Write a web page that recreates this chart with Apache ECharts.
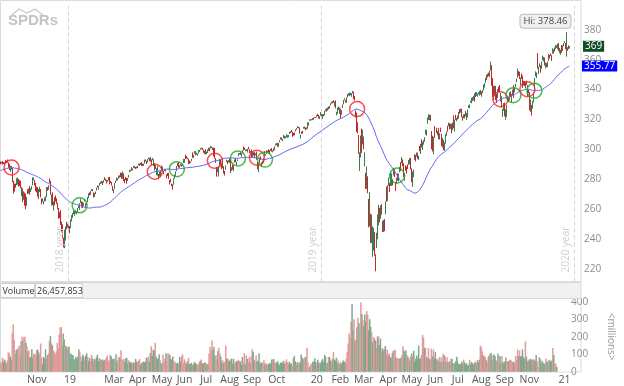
<!DOCTYPE html>
<html><head><meta charset="utf-8">
<script src="https://cdn.jsdelivr.net/npm/echarts@6/dist/echarts.min.js"></script>
<style>html,body{margin:0;padding:0;background:#fff}#c{width:624px;height:386px}</style>
</head><body><div id="c"></div>
<script>
// ---- data: rows are [open, high, low, close, volume (millions)] per trading day ----
const warmup = [279.3,280.5,281.1,280.0,279.7,280.2,281.6,284.0,283.3,280.9,279.3,281.3,
280.9,282.4,283.6,284.6,285.6,285.5,285.1,283.2,282.1,283.9,281.8,284.1,285.1,285.7,286.3,286.2,285.8,287.5,289.8,289.9,291.5,290.3,290.3,
289.8,289.0,288.2,287.6,288.1,289.1,289.1,290.8,290.9,289.3,290.9,291.4,293.6,292.0];
const m2018_09 = [[291.3,291.8,290.0,291.0,56],[291.4,291.6,290.5,290.8,46],[291.0,292.2,289.8,289.9,80],[290.4,291.4,290.1,290.7,57],[290.1,291.3,289.9,290.7,70]];
const m2018_10 = [[292.1,292.9,290.9,291.7,62],[291.6,292.4,290.8,291.6,48],[292.7,293.2,291.0,291.7,64],[291.2,291.2,287.7,289.4,111],[289.7,290.3,286.0,287.8,105],[287.1,288.9,285.0,287.8,87],[287.3,288.9,286.4,287.4,69],[286.9,287.4,277.9,278.3,220],[277.1,278.9,270.4,272.2,270],[276.8,277.0,271.7,275.9,182],[275.6,277.0,274.3,274.4,102],[276.6,280.6,275.9,280.4,123],[280.5,281.2,276.4,280.5,129],[279.4,280.1,274.9,276.4,134],[277.1,279.3,275.5,276.3,149],[277.0,278.9,273.9,275.0,105],[270.9,274.9,268.6,273.6,172],[273.3,273.8,264.7,265.3,200],[267.4,271.8,266.2,270.1,176],[265.9,271.0,262.3,265.3,200],[268.8,270.3,259.9,263.9,200],[263.7,268.1,262.1,267.8,165],[270.7,273.2,270.1,270.6,146]];
const m2018_11 = [[271.6,273.7,270.4,273.5,116],[274.8,275.2,269.6,271.9,123],[272.4,274.0,271.4,273.4,80],[273.1,275.3,273.0,275.1,86],[277.6,281.1,276.0,281.0,128],[280.1,281.2,279.2,280.5,80],[279.0,279.3,275.7,277.8,102],[277.2,277.5,271.9,272.6,98],[273.1,275.0,271.1,272.1,99],[274.2,274.6,268.3,270.2,125],[268.8,273.4,266.6,273.0,126],[271.8,274.9,271.4,273.7,110],[273.2,273.4,267.9,269.1,99],[265.4,267.2,263.2,264.1,161],[266.4,267.0,264.9,265.0,82],[263.2,265.3,263.1,263.3,42],[265.8,267.8,265.1,267.5,85],[266.2,268.5,265.3,268.4,75],[269.6,274.7,268.0,274.6,128],[273.8,274.7,272.2,273.0,76],[273.8,276.0,272.9,275.7,95]];
const m2018_12 = [[280.3,280.4,277.5,279.3,104],[278.4,278.8,269.6,270.2,177],[265.9,269.9,262.3,269.8,205],[269.5,271.2,262.6,263.6,161],[263.4,265.2,258.9,264.1,151],[267.7,267.9,262.5,264.1,121],[267.7,269.1,265.0,265.4,111],[266.6,267.1,263.4,265.4,97],[262.9,264.0,259.9,260.5,117],[259.4,260.7,253.5,255.4,165],[257.2,257.9,253.9,255.1,134],[255.2,259.4,249.3,251.3,214],[249.9,251.6,244.7,247.2,252],[246.7,249.7,239.8,240.7,255],[239.0,240.8,234.3,234.3,147],[235.9,246.2,233.8,246.2,218],[242.6,248.3,238.9,248.1,186],[249.6,251.4,246.4,247.8,153],[249.6,250.2,247.5,249.9,144]];
const m2019_01 = [[245.9,251.2,245.0,250.2,127],[248.2,248.6,243.7,244.2,144],[247.6,253.1,247.2,252.4,142],[252.7,255.9,251.7,254.4,103],[256.8,257.3,254.0,256.8,103],[257.6,258.9,256.5,258.0,96],[256.1,259.2,255.5,258.9,96],[257.7,259.0,257.0,259.0,73],[256.9,258.3,256.4,257.4,71],[257.8,260.7,257.6,260.4,85],[260.8,262.5,260.6,261.0,76],[259.5,263.9,259.4,263.0,86],[264.9,266.9,263.9,266.5,127],[264.8,265.1,261.1,262.9,115],[264.0,264.8,260.7,263.4,87],[263.2,264.2,262.1,263.6,60],[265.6,266.7,265.0,265.8,97],[263.4,263.8,261.2,263.8,86],[263.9,264.5,262.8,263.4,66],[265.1,268.0,264.7,267.6,92],[267.5,270.5,267.3,269.9,105]];
const m2019_02 = [[270.2,271.2,269.2,270.1,86],[270.1,272.0,269.4,272.0,61],[272.4,273.4,272.2,273.1,79],[272.8,273.3,271.9,272.7,59],[270.9,271.2,267.7,270.1,96],[268.8,270.7,268.2,270.5,76],[271.2,271.7,270.0,270.6,60],[272.4,274.3,272.4,274.1,73],[275.1,275.8,274.4,275.0,66],[273.9,275.5,272.9,274.4,83],[276.4,277.4,275.5,277.4,97],[277.0,278.4,276.8,277.9,59],[278.1,278.9,277.2,278.4,76],[278.3,278.5,276.1,277.4,72],[278.1,279.4,277.6,279.1,66],[280.7,281.3,279.4,279.5,70],[279.1,280.3,278.7,279.3,62],[278.3,279.6,277.0,279.2,68],[278.9,279.3,278.2,278.7,68]];
const m2019_03 = [[281.0,281.3,279.1,280.4,80],[281.2,281.5,276.5,278.4,92],[278.5,278.9,277.5,278.0,59],[278.0,278.1,275.8,276.1,66],[275.3,275.5,272.3,273.8,95],[271.5,273.4,270.6,273.2,89],[273.4,277.3,273.4,277.2,73],[277.6,279.0,277.5,278.1,70],[279.0,281.1,278.9,280.0,75],[279.7,280.6,279.1,279.6,58],[280.5,282.4,280.3,281.3,100],[281.6,282.6,281.0,282.3,56],[283.5,284.4,281.4,282.4,70],[282.0,284.2,280.2,281.5,85],[280.6,285.2,280.3,284.7,80],[283.2,283.8,278.7,278.9,123],[278.9,280.2,277.3,278.6,70],[280.9,281.6,279.2,280.7,68],[280.4,280.8,276.9,279.4,72],[279.6,280.9,278.8,280.5,57],[282.2,282.8,281.1,282.5,78]];
const m2019_04 = [[284.7,286.2,284.6,285.8,77],[286.0,286.3,285.2,286.0,47],[287.3,288.0,285.7,286.4,65],[286.8,287.2,285.9,287.2,52],[287.7,288.7,287.5,288.6,56],[288.1,288.9,287.3,288.8,45],[287.8,288.2,286.9,287.3,52],[287.8,288.4,287.2,288.3,53],[288.8,288.8,287.4,288.2,46],[289.6,290.5,289.2,290.2,73],[290.2,290.4,288.9,290.2,57],[290.9,291.0,289.5,290.2,55],[291.4,291.4,288.9,289.5,62],[290.1,290.3,288.7,290.0,72],[289.2,290.4,288.9,290.3,40],[290.7,293.1,290.4,292.9,50],[292.8,293.2,291.9,292.2,53],[292.1,292.3,290.2,292.1,58],[292.1,293.5,291.2,293.4,51],[293.5,294.4,293.3,293.9,58],[293.5,294.3,291.9,294.0,80]];
const m2019_05 = [[294.7,294.9,291.8,291.8,76],[291.7,293.2,289.4,291.2,86],[292.8,294.3,292.7,294.0,56],[289.3,293.3,288.8,292.8,107],[290.2,290.8,285.8,287.5,145],[287.5,289.4,286.8,287.5,91],[285.2,287.3,282.7,286.7,125],[285.6,288.9,282.3,288.0,120],[282.4,283.5,279.9,280.9,165],[281.9,285.1,281.8,283.4,85],[281.7,285.8,281.6,285.1,73],[285.8,289.2,285.7,287.8,75],[285.1,288.4,285.1,285.8,100],[284.1,285.4,283.3,283.9,66],[285.8,286.9,285.5,286.5,47],[285.5,286.6,285.1,285.6,49],[283.2,283.3,280.5,282.1,98],[283.7,284.2,282.1,282.8,58],[283.1,284.2,280.2,280.2,73],[278.3,279.4,276.4,278.3,105],[279.1,280.1,277.8,279.0,58],[276.2,277.0,275.3,275.3,104]];
const m2019_06 = [[275.3,276.6,273.0,274.6,103],[277.2,280.6,276.3,280.5,94],[282.3,283.0,280.3,283.0,72],[283.3,285.3,282.2,284.8,69],[285.9,288.9,285.5,287.7,87],[289.4,290.8,288.8,289.0,59],[290.9,291.4,287.7,288.9,58],[288.6,289.2,287.6,288.4,48],[289.4,290.0,288.9,289.6,47],[288.8,289.9,288.3,289.3,52],[289.7,290.2,289.1,289.4,38],[291.3,293.6,290.9,292.4,85],[292.6,293.6,291.0,293.1,60],[296.0,296.3,293.5,295.9,88],[294.1,295.5,293.8,294.0,99],[294.2,294.4,293.3,293.6,47],[293.6,293.7,290.2,290.8,71],[292.0,292.5,290.3,290.5,54],[291.1,291.8,290.8,291.5,45],[292.6,293.6,292.0,293.0,59]];
const m2019_07 = [[297.6,298.0,294.3,295.7,80],[295.5,296.5,294.3,296.4,44],[297.2,298.8,297.0,298.8,44],[297.4,298.8,295.9,298.5,51],[297.0,297.7,296.5,296.8,42],[296.0,297.2,295.7,297.2,39],[298.4,299.7,297.2,298.6,56],[299.3,299.6,298.3,299.3,50],[299.8,300.7,299.5,300.7,44],[301.1,301.1,300.2,300.8,34],[300.6,301.0,299.6,299.7,44],[299.7,299.8,297.7,297.7,52],[297.2,299.0,296.7,298.8,63],[300.0,300.1,296.7,296.7,70],[297.6,298.4,296.7,297.6,47],[298.9,299.9,297.5,299.7,47],[299.1,301.1,298.9,301.1,50],[300.9,301.0,298.7,299.6,56],[300.8,302.2,300.5,301.8,47],[301.9,301.9,300.8,301.5,42],[299.9,301.2,299.5,300.7,44],[300.9,301.2,295.2,297.4,104]];
const m2019_08 = [[297.6,300.9,293.9,294.8,142],[293.9,294.1,290.9,292.6,120],[288.1,288.2,281.7,283.8,178],[285.9,288.0,284.6,287.8,122],[284.4,288.8,281.7,288.0,141],[289.6,293.6,289.0,293.6,88],[292.6,293.2,289.6,291.6,94],[290.0,290.3,286.7,288.1,71],[287.7,294.2,287.3,292.6,119],[288.1,288.7,283.8,283.9,137],[284.9,285.6,282.4,284.6,106],[286.5,289.3,286.2,288.9,87],[292.2,293.1,291.4,292.3,54],[291.8,292.4,290.0,290.1,65],[292.1,292.8,291.3,292.5,48],[293.1,294.0,290.9,292.4,56],[291.9,293.7,284.1,284.9,150],[287.3,288.0,285.6,288.0,72],[289.5,289.9,286.4,287.0,78],[286.1,289.3,285.4,289.0,63],[291.7,293.2,291.1,292.6,63],[294.2,294.2,291.4,292.5,71]];
const m2019_09 = [[290.6,291.6,289.3,290.7,74],[292.9,293.3,292.1,293.2,46],[296.1,297.4,295.4,296.8,73],[297.2,297.5,296.6,297.0,47],[297.8,298.0,296.2,297.0,55],[296.5,297.3,295.1,297.1,60],[297.9,299.3,297.2,299.3,61],[301.3,301.8,299.1,300.2,68],[300.8,301.2,299.7,300.0,60],[299.0,299.9,298.7,299.1,59],[299.2,299.9,298.8,299.9,41],[299.9,300.3,297.8,300.0,84],[300.5,301.7,300.0,300.0,52],[299.4,300.0,297.6,298.3,106],[297.4,298.8,297.3,298.3,43],[299.5,299.9,294.8,295.9,93],[296.1,298.4,294.3,297.6,73],[297.6,297.9,295.9,297.0,58],[297.9,298.2,294.1,295.4,83],[296.1,297.3,295.9,296.8,50]];
const m2019_10 = [[297.7,298.5,293.0,293.2,88],[291.5,291.5,286.6,288.1,129],[287.8,290.5,284.8,290.4,114],[291.1,294.5,290.7,294.4,69],[293.5,295.2,292.9,293.1,52],[291.0,291.2,288.5,288.5,94],[290.8,292.3,290.0,291.3,59],[291.2,294.2,290.9,293.2,63],[296.3,298.7,296.0,296.3,105],[295.9,296.7,295.6,295.9,45],[296.9,299.3,296.8,298.9,53],[298.4,299.1,297.9,298.4,53],[299.7,300.0,297.9,299.3,45],[298.9,299.4,296.7,298.0,65],[299.4,300.2,298.9,300.0,44],[300.6,300.9,298.5,298.6,51],[298.4,299.3,297.9,299.3,39],[300.2,300.6,298.8,299.9,44],[299.5,302.0,299.3,301.6,45],[302.6,303.9,302.5,303.3,51],[303.2,304.0,302.9,303.2,43],[303.4,304.5,301.7,304.1,70],[304.1,304.1,301.7,303.3,69]];
const m2019_11 = [[304.9,306.2,304.7,306.1,73],[307.7,308.0,306.7,307.1,53],[307.1,307.9,306.3,306.6,51],[306.7,307.0,305.4,306.9,53],[307.7,309.7,307.6,308.2,60],[307.8,309.0,307.0,309.0,45],[307.5,308.7,307.4,308.4,36],[308.8,310.1,308.1,309.0,51],[307.8,309.5,307.7,309.1,53],[308.9,309.6,308.0,309.6,52],[311.0,311.8,310.3,311.8,63],[311.5,312.0,310.8,312.0,45],[312.7,312.9,311.3,311.9,54],[311.3,311.8,308.4,310.8,71],[310.6,311.0,309.1,310.3,54],[311.1,311.2,309.4,311.0,43],[311.9,313.4,311.9,313.4,57],[313.4,314.3,313.1,314.1,47],[314.6,315.5,314.2,315.5,46],[314.8,315.1,314.1,314.3,29]];
const m2019_12 = [[314.6,314.7,310.5,311.6,76],[307.9,309.9,307.2,309.6,91],[310.7,312.1,310.3,311.5,59],[312.2,312.3,310.6,312.0,40],[314.1,315.0,313.8,314.9,55],[314.4,315.2,313.8,313.9,47],[313.8,314.6,312.8,313.5,52],[314.0,314.7,313.4,314.4,53],[314.4,318.0,313.7,317.1,99],[317.0,318.2,315.9,317.3,81],[319.3,320.2,319.1,319.5,71],[319.9,320.0,319.2,319.6,77],[320.0,320.2,319.5,319.6,82],[319.5,320.9,319.5,320.9,86],[321.1,321.2,319.8,320.7,137],[321.6,321.6,320.9,321.2,53],[321.5,321.5,320.9,321.2,20],[321.7,322.9,321.6,322.9,31],[323.7,323.8,322.3,322.9,43],[322.9,323.1,320.6,321.1,49],[320.5,322.1,320.2,321.9,57]];
const m2020_01 = [[323.5,324.9,322.5,324.9,59],[321.2,323.6,321.1,322.4,77],[320.5,323.7,320.4,323.6,55],[323.0,323.5,322.2,322.7,40],[322.9,325.8,322.7,324.5,68],[326.2,326.7,325.5,326.7,49],[327.3,327.5,325.2,325.7,53],[326.4,328.0,325.9,328.0,48],[327.5,328.6,326.8,327.5,62],[327.4,329.0,327.3,328.2,72],[329.7,330.9,329.3,330.9,54],[331.7,332.0,330.6,332.0,96],[330.9,332.2,330.8,331.3,86],[332.3,332.9,331.2,331.3,47],[330.6,332.0,328.7,331.7,51],[332.4,332.7,327.4,328.8,85],[323.0,325.1,322.7,323.5,84],[325.1,327.9,323.8,326.9,64],[328.4,328.6,326.4,326.6,54],[324.4,327.9,323.8,327.7,75],[327.0,327.2,320.7,321.7,114]];
const m2020_02 = [[323.4,326.2,323.2,324.1,69],[328.1,330.0,327.7,329.1,63],[332.3,333.1,330.1,332.9,80],[333.9,334.2,332.8,333.9,50],[332.8,333.0,331.2,332.2,64],[331.2,334.8,331.2,334.7,42],[336.2,337.0,334.7,335.3,54],[336.2,337.6,336.0,337.4,44],[335.9,338.1,335.6,337.1,54],[337.5,337.7,336.2,337.6,64],[336.5,337.7,335.2,336.7,58],[337.8,339.1,337.5,338.3,48],[337.7,338.6,333.6,337.0,74],[335.5,335.8,332.6,333.5,113],[323.1,326.0,321.3,322.4,161],[323.9,324.6,311.7,312.7,218],[314.2,318.1,310.7,311.5,194],[305.5,309.6,297.0,297.5,284],[288.7,297.9,285.5,296.3,385]];
const m2020_03 = [[298.2,309.2,294.5,309.1,238],[309.5,313.8,297.6,300.2,300],[306.1,313.1,303.3,312.9,176],[305.0,308.5,300.0,302.5,186],[293.2,298.0,288.5,297.5,254],[275.3,284.2,273.5,274.2,309],[284.6,288.5,273.5,288.4,277],[280.7,281.9,270.6,274.4,256],[256.0,266.7,247.7,248.1,395],[263.1,271.5,248.5,269.3,330],[241.2,256.9,237.4,239.9,297],[245.0,256.2,237.1,252.8,262],[236.3,248.4,228.0,240.0,327],[239.3,247.4,232.2,240.5,289],[242.5,244.5,228.8,228.8,347],[228.2,229.7,218.3,223.0,326],[234.4,244.1,233.8,243.2,236],[244.9,256.4,239.8,246.8,300],[249.5,262.8,249.1,261.2,257],[255.5,260.8,251.1,253.4,225],[255.7,262.4,253.5,261.7,171],[260.6,263.3,256.2,257.8,199]];
const m2020_04 = [[248.0,252.0,244.6,246.2,189],[245.2,252.7,244.6,251.8,178],[250.8,253.3,245.2,248.2,136],[257.8,265.2,256.4,264.9,201],[274.2,275.0,264.9,265.1,202],[267.9,276.0,265.3,274.0,153],[277.6,281.2,275.5,278.2,190],[277.1,277.5,271.4,275.7,114],[280.9,284.9,275.5,283.8,134],[277.6,283.9,275.5,277.8,121],[279.2,280.0,275.8,279.1,131],[285.4,287.3,282.4,286.6,147],[282.6,286.8,281.4,281.6,100],[276.7,278.0,272.0,273.0,126],[278.0,281.0,276.9,279.1,93],[280.7,283.9,278.9,279.1,105],[280.7,283.7,278.5,283.0,85],[285.1,288.3,284.6,287.1,78],[291.0,291.4,285.4,285.7,106],[291.5,294.9,290.7,293.2,118],[291.7,293.3,288.6,290.5,123]];
const m2020_05 = [[285.3,290.7,281.5,282.8,125],[280.7,283.9,279.1,283.6,80],[286.6,289.3,285.6,286.2,80],[288.0,288.5,283.8,284.3,73],[287.8,289.8,286.8,287.7,76],[291.1,292.9,289.6,292.4,77],[290.3,294.0,289.9,292.5,80],[293.8,294.2,286.5,286.7,95],[286.1,287.2,278.0,281.6,146],[278.9,285.1,274.9,285.0,121],[282.4,286.3,281.3,286.3,111],[293.1,296.8,292.9,295.0,121],[294.4,296.2,291.9,292.0,95],[295.3,297.9,295.1,296.9,85],[296.8,297.7,293.7,294.9,79],[294.6,295.6,292.8,295.4,64],[301.9,302.2,298.7,299.1,88],[302.1,303.6,296.9,303.5,104],[304.7,306.8,301.2,301.3,90],[302.5,305.0,299.5,304.3,120]];
const m2020_06 = [[303.6,306.2,303.1,305.6,56],[306.6,308.1,305.1,308.1,74],[310.2,313.2,309.9,312.2,92],[311.1,313.0,309.1,311.4,75],[317.2,321.3,317.1,319.3,150],[320.2,323.4,319.6,323.2,73],[320.3,323.3,319.6,320.8,77],[321.4,323.0,319.0,319.0,95],[311.5,312.2,300.0,300.6,210],[308.2,309.1,298.6,304.2,194],[298.0,308.3,296.7,307.1,135],[315.5,315.6,307.7,313.0,137],[314.1,314.4,310.9,311.7,83],[310.0,312.3,309.5,311.8,81],[314.2,314.4,306.8,308.6,135],[308.0,310.8,306.5,310.6,74],[313.5,314.5,311.6,312.1,68],[309.8,310.5,302.1,304.1,132],[303.5,307.6,301.2,307.4,89],[306.2,306.4,299.4,300.1,127],[301.4,304.6,298.9,304.5,79],[304.0,310.2,303.8,308.4,113]];
const m2020_07 = [[309.6,311.9,309.0,310.5,72],[314.2,315.7,311.8,312.2,70],[316.4,317.9,315.4,317.6,61],[315.4,317.5,313.4,314.4,83],[316.2,317.1,313.7,316.2,57],[316.8,317.1,310.7,314.4,83],[314.3,317.9,312.8,317.6,57],[320.1,322.7,314.1,314.8,102],[313.3,319.8,312.0,318.9,93],[322.4,323.0,319.7,321.9,87],[319.8,321.0,318.8,320.8,55],[321.9,322.6,319.9,321.7,83],[321.4,325.1,320.6,324.3,56],[326.4,326.9,323.9,325.0,57],[324.6,327.2,324.5,326.9,58],[326.5,327.2,321.5,323.0,75],[320.9,322.0,319.2,320.9,73],[321.6,323.4,320.8,323.2,48],[322.4,323.6,320.8,321.2,50],[322.1,325.7,322.1,325.1,48],[321.9,324.4,319.6,324.0,62],[325.9,326.6,321.3,326.5,86]];
const m2020_08 = [[328.3,329.6,327.7,328.8,53],[327.9,330.1,327.6,330.1,41],[331.5,332.4,331.2,332.1,43],[331.5,334.5,330.9,334.3,43],[333.3,334.9,332.3,334.6,57],[335.1,335.8,332.9,335.6,45],[336.9,337.5,331.9,332.8,69],[335.4,338.3,335.0,337.4,53],[336.6,338.3,335.8,336.8,41],[336.4,337.4,335.2,336.8,48],[337.9,338.3,336.9,337.9,35],[338.3,339.1,335.9,338.6,39],[339.1,339.6,336.6,337.2,68],[335.4,338.8,335.2,338.3,42],[337.9,339.7,337.5,339.5,55],[342.1,343.5,339.5,343.4,49],[344.0,344.3,341.3,344.1,38],[344.8,347.9,344.5,347.6,51],[348.5,349.9,346.5,348.3,58],[349.4,350.7,348.1,350.6,48],[350.4,351.3,349.1,349.3,67]];
const m2020_09 = [[350.4,352.7,348.2,352.6,54],[354.7,358.8,352.8,357.7,69],[355.9,356.4,342.6,345.4,149],[346.1,347.8,334.9,342.6,139],[336.7,342.6,332.9,333.2,115],[337.6,342.5,336.6,339.8,92],[341.8,342.5,332.9,333.9,91],[335.8,337.0,331.0,334.1,84],[337.5,340.4,334.2,338.5,65],[341.1,342.0,338.5,340.2,52],[341.5,343.1,338.3,338.8,82],[333.6,337.7,332.0,335.8,92],[335.4,335.5,327.9,330.7,105],[325.7,327.1,321.7,327.0,106],[328.6,330.9,325.9,330.3,69],[330.9,331.2,322.1,322.6,93],[321.2,326.8,319.8,323.5,99],[322.6,329.6,321.6,328.7,88],[333.2,335.0,332.2,334.2,65],[333.9,334.8,331.6,332.4,53],[333.1,338.3,332.9,334.9,104]];
const m2020_10 = [[337.7,338.7,335.0,337.0,89],[331.7,337.0,331.2,333.8,89],[336.1,340.0,336.0,339.8,45],[339.9,343.0,334.4,334.9,90],[338.1,341.6,338.1,340.8,57],[342.9,343.9,341.8,343.8,45],[345.6,347.4,344.9,346.9,59],[349.6,354.0,347.9,352.4,81],[352.3,352.4,349.2,350.1,58],[350.8,351.9,347.1,347.9,58],[343.7,348.0,343.1,347.4,61],[349.0,350.8,347.1,347.3,69],[348.6,349.3,341.0,342.0,68],[344.0,345.8,342.8,343.4,60],[343.3,345.7,342.3,342.7,55],[343.0,345.2,340.7,344.6,56],[345.9,346.0,343.1,345.8,50],[342.1,343.0,335.6,339.4,91],[339.8,340.1,337.5,338.2,65],[332.1,338.3,326.1,326.7,127],[326.9,333.4,325.1,330.0,90],[328.3,329.7,322.6,326.5,121]];
const m2020_11 = [[330.2,332.4,327.2,330.2,87],[333.7,338.3,331.4,336.0,90],[340.9,347.9,339.9,343.5,127],[349.2,352.2,348.9,350.2,82],[349.9,351.5,347.7,350.2,74],[364.0,364.4,354.1,354.6,172],[353.5,355.2,350.5,354.0,86],[356.4,357.6,355.1,356.7,59],[355.6,356.4,351.3,353.2,69],[355.3,358.9,353.9,358.1,62],[361.0,362.8,359.6,362.6,75],[360.0,361.9,358.9,360.6,66],[360.9,361.5,356.2,356.3,71],[355.6,358.2,354.2,357.8,70],[357.5,357.7,355.1,355.3,70],[357.3,358.8,354.9,357.5,63],[360.2,363.8,359.3,363.2,95],[363.1,363.2,360.8,362.7,58],[363.8,364.2,362.6,363.7,28],[362.8,363.1,359.2,362.1,82]];
const m2020_12 = [[365.6,367.7,364.0,366.0,75],[364.8,367.0,364.2,366.8,46],[366.7,368.2,365.5,366.7,63],[367.3,369.9,367.2,369.9,51],[369.0,369.6,367.9,369.1,48],[367.7,370.8,367.1,370.2,42],[370.9,371.1,365.9,366.9,75],[365.4,367.9,364.4,366.7,57],[364.9,366.7,363.3,366.3,57],[368.6,369.8,364.5,364.7,69],[367.4,369.6,365.9,369.6,64],[369.8,371.2,368.9,370.2,58],[371.9,372.5,371.1,372.2,64],[371.0,371.2,367.0,369.2,136],[365.0,378.46,362.0,367.9,96],[368.2,368.3,366.0,367.2,47],[368.3,369.6,367.2,367.6,46],[368.1,369.03,367.5,369.0,26.457853]];

const holidays = ['2018-11-22','2018-12-05','2018-12-25','2019-01-01','2019-01-21','2019-02-18','2019-04-19','2019-05-27','2019-07-04','2019-09-02','2019-11-28','2019-12-25','2020-01-01','2020-01-20','2020-02-17','2020-04-10','2020-05-25','2020-07-03','2020-09-07','2020-11-26','2020-12-25','2021-01-01'];
const firstDay = '2018-09-24', lastAxisDay = '2021-01-12';
// crossings of price and moving average
const crosses = [['2018-10-09','dn'],['2019-01-17','up'],['2019-05-07','dn'],['2019-06-07','up'],['2019-08-01','dn'],['2019-09-04','up'],['2019-10-01','dn'],['2019-10-11','up'],['2020-02-25','dn'],['2020-04-22','up'],['2020-09-17','dn'],['2020-10-06','up'],['2020-10-26','dn'],['2020-11-04','up']];
// x tick labels and the trading day each one is centred on in the picture
const xTicks = [['2018-11-14','Nov'],['2019-01-07','19'],['2019-03-13','Mar'],['2019-04-16','Apr'],['2019-05-22','May'],['2019-06-25','Jun'],['2019-07-26','Jul'],['2019-08-29','Aug'],['2019-10-02','Sep'],['2019-11-06','Oct'],['2020-01-07','20'],['2020-02-11','Feb'],['2020-03-17','Mar'],['2020-04-22','Apr'],['2020-05-27','May'],['2020-06-30','Jun'],['2020-08-03','Jul'],['2020-09-04','Aug'],['2020-10-09','Sep'],['2020-11-13','Nov'],['2021-01-07','21']];
const yearLines = [['2019-01-02','2018 year'],['2020-01-02','2019 year'],['2021-01-04','2020 year']];
const priceTicks = [220,240,260,280,300,320,340,360,380];
const maPeriod = 50;

// ---- build ----
const months = [m2018_09,m2018_10,m2018_11,m2018_12,m2019_01,m2019_02,m2019_03,m2019_04,m2019_05,m2019_06,m2019_07,m2019_08,m2019_09,m2019_10,m2019_11,m2019_12,m2020_01,m2020_02,m2020_03,m2020_04,m2020_05,m2020_06,m2020_07,m2020_08,m2020_09,m2020_10,m2020_11,m2020_12];
const rows = [].concat(...months);
function tradingDays(start, end, hol) {
  const out = [], hs = new Set(hol);
  let t = Date.parse(start + 'T00:00:00Z'); const e = Date.parse(end + 'T00:00:00Z');
  while (t <= e) { const d = new Date(t), wd = d.getUTCDay(), s = d.toISOString().slice(0,10);
    if (wd !== 0 && wd !== 6 && !hs.has(s)) out.push(s); t += 86400000; }
  return out;
}
const cats = tradingDays(firstDay, lastAxisDay, holidays);
const candle = rows.map(r => [r[0], r[3], r[2], r[1]]);
const closes = rows.map(r => r[3]);
const allCloses = warmup.concat(closes);
const ma = closes.map((c, i) => { let s = 0; for (let k = i; k < i + maPeriod; k++) s += allCloses[k]; return s / maPeriod; });
const UP = '#3b7c55', DN = '#c3282c', VUP = '#7fa78b', VDN = '#e39a9a';
const vols = rows.map(r => ({ value: r[4], itemStyle: { color: r[3] >= r[0] ? VUP : VDN } }));
const lastClose = closes[closes.length - 1], lastMA = ma[ma.length - 1];
const lastVol = Math.round(rows[rows.length - 1][4] * 1e6).toLocaleString('en-US');
const labelAt = {};
xTicks.forEach(([d, t]) => { const i = cats.indexOf(d); if (i >= 0) labelAt[i] = t; });
const circleData = crosses.map(([d, t]) => { const i = cats.indexOf(d); return { value: [d, ma[i]], itemStyle: { borderColor: t === 'up' ? '#1ea51e' : '#ff1f1f' } }; });
const FONT = '"Open Sans", "DejaVu Sans", sans-serif';
const pxPer = 1.53125, y380 = 23;
const gridTop = y380 - (400 - 380) * pxPer, gridH = 200 * pxPer;
const txt = (x, y, text, size, color, extra) => Object.assign({ type: 'text', silent: true, z: 12, x, y,
  style: Object.assign({ text, fill: color, fontSize: size, fontFamily: FONT, verticalAlign: 'middle', textVerticalAlign: 'middle' }, extra || {}) });

const chart = echarts.init(document.getElementById('c'), null, { renderer: 'canvas' });
chart.setOption({
  animation: false,
  backgroundColor: '#ffffff',
  textStyle: { fontFamily: FONT },
  grid: [
    { left: 0, right: 43, top: gridTop, height: gridH },
    { left: 0, right: 43, top: 301.7, height: 70 }
  ],
  xAxis: [
    { type: 'category', gridIndex: 0, data: cats, boundaryGap: true, axisLine: { show: false }, axisTick: { show: false }, axisLabel: { show: false }, splitLine: { show: false } },
    { type: 'category', gridIndex: 1, data: cats, boundaryGap: true, axisLine: { show: false }, axisTick: { show: false }, splitLine: { show: false },
      axisLabel: { interval: (i) => labelAt[i] !== undefined, formatter: (v, i) => labelAt[i] || '', color: '#555', fontSize: 10.5, margin: 3, align: 'center', fontFamily: FONT } }
  ],
  yAxis: [
    { type: 'value', gridIndex: 0, position: 'right', min: 200, max: 400, interval: 20, axisLine: { show: false }, axisTick: { show: false }, splitLine: { show: false },
      axisLabel: { color: '#8c8c8c', fontSize: 10, margin: 3, fontFamily: FONT, formatter: v => priceTicks.includes(v) ? String(v) : '' } },
    { type: 'value', gridIndex: 1, position: 'right', min: 0, max: 400, interval: 100, axisLine: { show: false }, axisTick: { show: false }, splitLine: { show: false },
      axisLabel: { color: '#8c8c8c', fontSize: 10, margin: 3, fontFamily: FONT },
      name: '<millions>', nameLocation: 'middle', nameRotate: -90, nameGap: 30, nameTextStyle: { color: '#999', fontSize: 10, fontFamily: FONT, padding: [0, 0, 8, 0] } }
  ],
  series: [
    { type: 'candlestick', xAxisIndex: 0, yAxisIndex: 0, data: candle, barWidth: 1,
      itemStyle: { color: UP, color0: DN, borderColor: UP, borderColor0: DN, borderWidth: 1 },
      markLine: { symbol: 'none', silent: true, animation: false,
        data: yearLines.map(([d, t]) => [
            { name: t, coord: [d, 211.5], lineStyle: { color: '#d2d2d2', type: [4, 3], width: 1 },
              label: { show: true, formatter: '{b}', position: 'insideStartTop', color: '#cfcfcf', fontSize: 10, distance: [9, 3], fontFamily: FONT } },
            { coord: [d, 396] }
          ]) },
      markPoint: { symbol: 'circle', symbolSize: 0, silent: true, animation: false,
        data: [{ type: 'max', valueDim: 'highest', name: 'Hi',
          label: { show: true, position: 'inside', offset: [-21, -11], formatter: p => 'Hi: ' + Number(p.value).toFixed(2),
            color: '#444', fontSize: 9.5, backgroundColor: '#efefef', borderColor: '#bdbdbd', borderWidth: 1, borderRadius: 3, padding: [2, 3, 1, 3], fontFamily: FONT } }] }
    },
    { type: 'line', xAxisIndex: 0, yAxisIndex: 0, data: ma, showSymbol: false, symbol: 'none', smooth: false, z: 3,
      lineStyle: { color: '#6767f2', width: 1 } },
    { type: 'scatter', xAxisIndex: 0, yAxisIndex: 0, data: circleData, symbol: 'circle', symbolSize: 15, z: 4,
      itemStyle: { color: 'rgba(0,0,0,0)', borderWidth: 1.5 } },
    { type: 'bar', xAxisIndex: 1, yAxisIndex: 1, data: vols, barWidth: 1.5, barGap: '-100%' }
  ],
  graphic: [
    { type: 'rect', silent: true, z: -10, shape: { x: 0.5, y: 0.5, width: 580.5, height: 281 }, style: { fill: 'none', stroke: '#dcdcdc', lineWidth: 1 } },
    { type: 'rect', silent: true, z: 10, shape: { x: 0.5, y: 282.5, width: 580.5, height: 16 }, style: { fill: '#f1f1f1', stroke: '#d9d9d9', lineWidth: 1 } },
    { type: 'rect', silent: true, z: 11, shape: { x: 0.5, y: 283.5, width: 34, height: 14 }, style: { fill: '#fcfcfc', stroke: '#cfcfcf', lineWidth: 1 } },
    txt(2.5, 291, 'Volume', 9, '#333'),
    { type: 'rect', silent: true, z: 11, shape: { x: 35.5, y: 283.5, width: 47, height: 14 }, style: { fill: '#fcfcfc', stroke: '#cfcfcf', lineWidth: 1 } },
    txt(37, 291, lastVol, 9, '#333'),
    { type: 'rect', silent: true, z: -10, shape: { x: 0.5, y: 298.5, width: 580.5, height: 73.5 }, style: { fill: 'none', stroke: '#dcdcdc', lineWidth: 1 } },
    { type: 'polyline', silent: true, z: 5, shape: { points: [[12, 15], [19, 9], [27, 13], [35, 9], [43, 15]] }, style: { fill: 'none', stroke: '#c9c9c9', lineWidth: 1.3 } },
    { type: 'text', silent: true, z: 5, x: 8, y: 21, style: { text: 'SPDRs', fill: '#c4c4c4', fontSize: 15, fontWeight: 'bold', fontFamily: '"Liberation Sans", Arial, sans-serif', verticalAlign: 'middle', textVerticalAlign: 'middle' } }
  ]
});
// last-value tags on the price axis, positioned through the axis scale
const yClose = chart.convertToPixel({ yAxisIndex: 0 }, lastClose);
const yMA = chart.convertToPixel({ yAxisIndex: 0 }, lastMA);
chart.setOption({ graphic: [
  txt(583, yClose, String(lastClose), 10, '#fff', { backgroundColor: '#134d27', padding: [1, 2, 0, 2] }),
  txt(582, yMA, lastMA.toFixed(2), 10, '#fff', { backgroundColor: '#0000ff', padding: [1, 2, 0, 2] })
].map((g, k) => Object.assign(g, { id: 'tag' + k, z: 20 })) });
</script></body></html>
